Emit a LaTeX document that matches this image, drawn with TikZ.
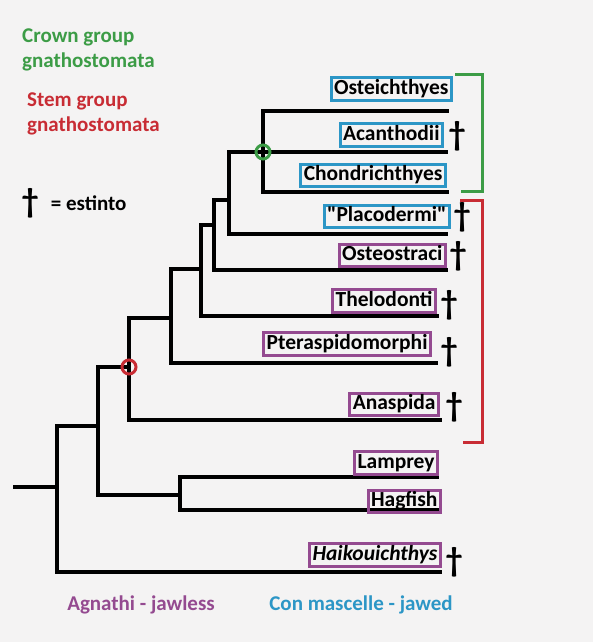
\documentclass[tikz,border=0pt]{standalone}
\usepackage{fontspec}
\setmainfont{Carlito}
\usepackage{tikz}
\usetikzlibrary{positioning}
\definecolor{CrownGreen}{RGB}{60,156,70}
\definecolor{StemRed}{RGB}{200,44,52}
\definecolor{JawBlue}{RGB}{44,150,198}
\definecolor{JawlessPurple}{RGB}{148,74,144}
\definecolor{PaperGrey}{RGB}{244,243,243}

\begin{document}
\begin{tikzpicture}[
    x=1pt, y=-1pt,
    branch/.style={line width=4pt, line join=miter, line cap=rect},
    taxon/.style={draw, line width=3pt, anchor=east, inner xsep=3pt, inner ysep=2pt,
                  text height=14.5pt, text depth=4pt, font=\fontsize{21.5}{24}\selectfont\bfseries},
    jawed/.style={taxon, draw=JawBlue},
    jawless/.style={taxon, draw=JawlessPurple},
    dag/.style={inner sep=0pt, font=\fontsize{34}{34}\selectfont\bfseries},
    note/.style={align=left, anchor=west, inner sep=0pt, font=\fontsize{21}{24.5}\selectfont\bfseries},
    clade/.style={line width=3pt, line join=miter},
    split/.style={draw, circle, line width=3pt, minimum size=14pt, inner sep=0pt}
]
\fill[PaperGrey] (0,0) rectangle (593,642);
\useasboundingbox (0,0) rectangle (593,642);

\coordinate (stem0) at (15,487);
\coordinate (p7)    at (57,487);
\coordinate (p6)    at (98,426);
\coordinate (cyclo) at (180,495);
\coordinate (p5)    at (129,367);
\coordinate (p4)    at (171,318);
\coordinate (p3)    at (201,269);
\coordinate (p2)    at (214,225);
\coordinate (p1)    at (229,200);
\coordinate (cg)    at (263,152);

\coordinate (t-osteich) at (447,111);
\coordinate (t-acanth)  at (446,152);
\coordinate (t-chondr)  at (447,192);
\coordinate (t-placo)   at (446,234);
\coordinate (t-osteos)  at (446,270);
\coordinate (t-thelo)   at (437,316);
\coordinate (t-ptera)   at (436,363);
\coordinate (t-anasp)   at (440,420);
\coordinate (t-lamprey) at (437,477);
\coordinate (t-hagfish) at (437,510);
\coordinate (t-haikou)  at (440,572);

\draw[branch] (t-osteich) -| (cg) |- (t-chondr);
\draw[branch] (cg) -- (t-acanth);
\draw[branch] (cg) -| (p1) |- (t-placo);
\draw[branch] (p1) -| (p2) |- (t-osteos);
\draw[branch] (p2) -| (p3) |- (t-thelo);
\draw[branch] (p3) -| (p4) |- (t-ptera);
\draw[branch] (p4) -| (p5) |- (t-anasp);
\draw[branch] (t-lamprey) -| (cyclo) |- (t-hagfish);
\draw[branch] (p5) -| (p6) |- (cyclo);
\draw[branch] (p6) -| (p7) |- (t-haikou);
\draw[branch] (stem0) -- (p7);

\node[split, draw=CrownGreen] (crownmark) at (cg) {};
\node[split, draw=StemRed]    (stemmark)  at (p5) {};

\node[jawed]   (osteich) at (453,89)    {Osteichthyes};
\node[jawed]   (acanth)  at (444,135)   {Acanthodii};
\node[jawed]   (chondr)  at (447,175.5) {Chondrichthyes};
\node[jawed]   (placo)   at (451,216.5) {\textquotedbl Placodermi\textquotedbl};
\node[jawless] (osteos)  at (447,255.5) {Osteostraci};
\node[jawless] (thelo)   at (437,301)   {Thelodonti};
\node[jawless, minimum width=162pt] (ptera) at (432,344) {Pteraspidomorphi};
\node[jawless] (anasp)   at (440,404.5) {Anaspida};
\node[jawless] (lamprey) at (439,463)   {Lamprey};
\node[jawless] (hagfish) at (442,501.5) {Hagfish};
\node[jawless] (haikou)  at (442,555)   {\textit{Haikouichthys}};

\node[dag] (dag-acanth) at (457,136) {†};
\node[dag] (dag-placo)  at (462,217) {†};
\node[dag] (dag-osteos) at (458,256) {†};
\node[dag] (dag-thelo)  at (449,305) {†};
\node[dag] (dag-ptera)  at (449,352) {†};
\node[dag] (dag-anasp)  at (454,407) {†};
\node[dag] (dag-haikou) at (454,562) {†};

\coordinate (crown-a) at (455,74);
\coordinate (crown-b) at (482,191);
\coordinate (crown-c) at (461,191);
\coordinate (stem-a)  at (460,200);
\coordinate (stem-b)  at (482,442);
\coordinate (stem-c)  at (463,442);
\draw[clade, CrownGreen] (crown-a) -| (crown-b) -- (crown-c);
\draw[clade, StemRed]    (stem-a) -| (stem-b) -- (stem-c);

\node[note, text=CrownGreen] (crown) at (22,50)  {Crown group\\gnathostomata};
\node[note, text=StemRed]    (stem)  at (27,114) {Stem group\\gnathostomata};
\node[dag] (legdag) at (30,203) {†};
\node[note, right=12pt of legdag] (estinto) {= estinto};

\node[note, anchor=center, text=JawlessPurple] (agnathi) at (141,605) {Agnathi - jawless};
\node[note, anchor=center, text=JawBlue]       (jawed)   at (361,605) {Con mascelle - jawed};
\end{tikzpicture}
\end{document}
